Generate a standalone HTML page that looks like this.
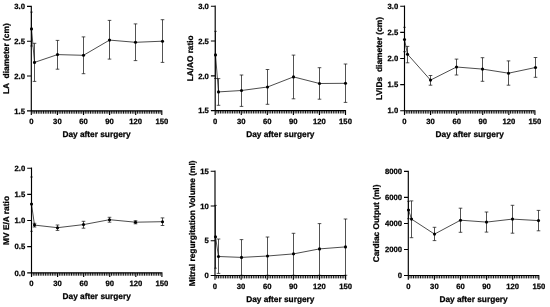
<!DOCTYPE html>
<html><head><meta charset="utf-8"><title>Figure</title>
<style>html,body{margin:0;padding:0;background:#fff}svg{display:block}text{font-family:"Liberation Sans",sans-serif;font-weight:bold;fill:#000;stroke:#000;stroke-width:0.25px;text-rendering:geometricPrecision}.t{font-size:7.7px}.l{font-size:8.3px}</style></head>
<body>
<svg width="550" height="307" viewBox="0 0 550 307">
<rect width="550" height="307" fill="#fff"/>
<g>
<path d="M31.5 12.1V46M30.2 12.1H32.8M30.2 46H32.8M34.5 43.3V81.4M32.7 43.3H36.3M32.7 81.4H36.3M57.5 40.4V69.2M55.7 40.4H59.3M55.7 69.2H59.3M83.5 36.9V73.7M81.7 36.9H85.3M81.7 73.7H85.3M109.5 20.4V59.1M107.7 20.4H111.3M107.7 59.1H111.3M135.5 23.9V60.6M133.7 23.9H137.3M133.7 60.6H137.3M162.5 19.7V62.4M160.7 19.7H164.3M160.7 62.4H164.3" stroke="#1a1a1a" stroke-width="0.75" fill="none"/>
<polyline points="31.5,28.9 34.5,62.4 57.5,54.6 83.5,55.3 109.5,40.1 135.5,42.3 162.5,41.2" stroke="#000" stroke-width="0.7" fill="none"/>
<circle cx="31.5" cy="28.9" r="1.55" fill="#000"/><circle cx="34.5" cy="62.4" r="1.55" fill="#000"/><circle cx="57.5" cy="54.6" r="1.55" fill="#000"/><circle cx="83.5" cy="55.3" r="1.55" fill="#000"/><circle cx="109.5" cy="40.1" r="1.55" fill="#000"/><circle cx="135.5" cy="42.3" r="1.55" fill="#000"/><circle cx="162.5" cy="41.2" r="1.55" fill="#000"/>
<path d="M31.3 5.83V115.1M27 110.8H162.38M27 6.4H31.3M27 41.2H31.3M27 76H31.3M57.4 110.8V115.1M83.5 110.8V115.1M109.6 110.8V115.1M135.7 110.8V115.1M161.8 110.8V115.1" stroke="#000" stroke-width="1.15" fill="none"/>
<path d="M33.04 110.8V113.7M34.78 110.8V113.7M36.52 110.8V113.7M38.26 110.8V113.7M40 110.8V113.7M41.74 110.8V113.7M43.48 110.8V113.7M45.22 110.8V113.7M46.96 110.8V113.7M48.7 110.8V113.7M50.44 110.8V113.7M52.18 110.8V113.7M53.92 110.8V113.7M55.66 110.8V113.7M59.14 110.8V113.7M60.88 110.8V113.7M62.62 110.8V113.7M64.36 110.8V113.7M66.1 110.8V113.7M67.84 110.8V113.7M69.58 110.8V113.7M71.32 110.8V113.7M73.06 110.8V113.7M74.8 110.8V113.7M76.54 110.8V113.7M78.28 110.8V113.7M80.02 110.8V113.7M81.76 110.8V113.7M85.24 110.8V113.7M86.98 110.8V113.7M88.72 110.8V113.7M90.46 110.8V113.7M92.2 110.8V113.7M93.94 110.8V113.7M95.68 110.8V113.7M97.42 110.8V113.7M99.16 110.8V113.7M100.9 110.8V113.7M102.64 110.8V113.7M104.38 110.8V113.7M106.12 110.8V113.7M107.86 110.8V113.7M111.34 110.8V113.7M113.08 110.8V113.7M114.82 110.8V113.7M116.56 110.8V113.7M118.3 110.8V113.7M120.04 110.8V113.7M121.78 110.8V113.7M123.52 110.8V113.7M125.26 110.8V113.7M127 110.8V113.7M128.74 110.8V113.7M130.48 110.8V113.7M132.22 110.8V113.7M133.96 110.8V113.7M137.44 110.8V113.7M139.18 110.8V113.7M140.92 110.8V113.7M142.66 110.8V113.7M144.4 110.8V113.7M146.14 110.8V113.7M147.88 110.8V113.7M149.62 110.8V113.7M151.36 110.8V113.7M153.1 110.8V113.7M154.84 110.8V113.7M156.58 110.8V113.7M158.32 110.8V113.7M160.06 110.8V113.7" stroke="#000" stroke-width="0.95" fill="none"/>
<text class="t" x="25" y="9.15" text-anchor="end">3.0</text><text class="t" x="25" y="43.95" text-anchor="end">2.5</text><text class="t" x="25" y="78.75" text-anchor="end">2.0</text><text class="t" x="25" y="113.55" text-anchor="end">1.5</text>
<text class="t" x="31.3" y="124.25" text-anchor="middle">0</text><text class="t" x="57.4" y="124.25" text-anchor="middle">30</text><text class="t" x="83.5" y="124.25" text-anchor="middle">60</text><text class="t" x="109.6" y="124.25" text-anchor="middle">90</text><text class="t" x="135.7" y="124.25" text-anchor="middle">120</text><text class="t" x="161.8" y="124.25" text-anchor="middle">150</text>
<text class="l" x="96.55" y="137" text-anchor="middle" textLength="68.3" lengthAdjust="spacingAndGlyphs">Day after surgery</text>
<text class="l" xml:space="preserve" style="white-space:pre" transform="translate(8.8 58.6) rotate(-90)" text-anchor="middle" textLength="70.9" lengthAdjust="spacingAndGlyphs">LA  diameter (cm)</text>
</g>
<g>
<path d="M215.5 31.3V78.5M214.2 31.3H216.8M214.2 78.5H216.8M218.5 78.6V105.3M216.7 78.6H220.3M216.7 105.3H220.3M241.5 75V106.4M239.7 75H243.3M239.7 106.4H243.3M267.5 69.5V104.3M265.7 69.5H269.3M265.7 104.3H269.3M293.5 55.1V98.8M291.7 55.1H295.3M291.7 98.8H295.3M319.5 67.7V99.2M317.7 67.7H321.3M317.7 99.2H321.3M345.5 64V102.4M343.7 64H347.3M343.7 102.4H347.3" stroke="#1a1a1a" stroke-width="0.75" fill="none"/>
<polyline points="215.5,54.9 218.5,91.9 241.5,90.5 267.5,87 293.5,76.9 319.5,83.5 345.5,83.3" stroke="#000" stroke-width="0.7" fill="none"/>
<circle cx="215.5" cy="54.9" r="1.55" fill="#000"/><circle cx="218.5" cy="91.9" r="1.55" fill="#000"/><circle cx="241.5" cy="90.5" r="1.55" fill="#000"/><circle cx="267.5" cy="87" r="1.55" fill="#000"/><circle cx="293.5" cy="76.9" r="1.55" fill="#000"/><circle cx="319.5" cy="83.5" r="1.55" fill="#000"/><circle cx="345.5" cy="83.3" r="1.55" fill="#000"/>
<path d="M215.2 5.62V114.9M210.9 110.6H346.07M210.9 6.2H215.2M210.9 41H215.2M210.9 75.8H215.2M241.26 110.6V114.9M267.32 110.6V114.9M293.38 110.6V114.9M319.44 110.6V114.9M345.5 110.6V114.9" stroke="#000" stroke-width="1.15" fill="none"/>
<path d="M216.94 110.6V113.5M218.67 110.6V113.5M220.41 110.6V113.5M222.15 110.6V113.5M223.89 110.6V113.5M225.62 110.6V113.5M227.36 110.6V113.5M229.1 110.6V113.5M230.84 110.6V113.5M232.57 110.6V113.5M234.31 110.6V113.5M236.05 110.6V113.5M237.79 110.6V113.5M239.52 110.6V113.5M243 110.6V113.5M244.73 110.6V113.5M246.47 110.6V113.5M248.21 110.6V113.5M249.95 110.6V113.5M251.68 110.6V113.5M253.42 110.6V113.5M255.16 110.6V113.5M256.9 110.6V113.5M258.63 110.6V113.5M260.37 110.6V113.5M262.11 110.6V113.5M263.85 110.6V113.5M265.58 110.6V113.5M269.06 110.6V113.5M270.79 110.6V113.5M272.53 110.6V113.5M274.27 110.6V113.5M276.01 110.6V113.5M277.74 110.6V113.5M279.48 110.6V113.5M281.22 110.6V113.5M282.96 110.6V113.5M284.69 110.6V113.5M286.43 110.6V113.5M288.17 110.6V113.5M289.91 110.6V113.5M291.64 110.6V113.5M295.12 110.6V113.5M296.85 110.6V113.5M298.59 110.6V113.5M300.33 110.6V113.5M302.07 110.6V113.5M303.8 110.6V113.5M305.54 110.6V113.5M307.28 110.6V113.5M309.02 110.6V113.5M310.75 110.6V113.5M312.49 110.6V113.5M314.23 110.6V113.5M315.97 110.6V113.5M317.7 110.6V113.5M321.18 110.6V113.5M322.91 110.6V113.5M324.65 110.6V113.5M326.39 110.6V113.5M328.13 110.6V113.5M329.86 110.6V113.5M331.6 110.6V113.5M333.34 110.6V113.5M335.08 110.6V113.5M336.81 110.6V113.5M338.55 110.6V113.5M340.29 110.6V113.5M342.03 110.6V113.5M343.76 110.6V113.5" stroke="#000" stroke-width="0.95" fill="none"/>
<text class="t" x="208.9" y="8.95" text-anchor="end">3.0</text><text class="t" x="208.9" y="43.75" text-anchor="end">2.5</text><text class="t" x="208.9" y="78.55" text-anchor="end">2.0</text><text class="t" x="208.9" y="113.35" text-anchor="end">1.5</text>
<text class="t" x="215.2" y="124.05" text-anchor="middle">0</text><text class="t" x="241.26" y="124.05" text-anchor="middle">30</text><text class="t" x="267.32" y="124.05" text-anchor="middle">60</text><text class="t" x="293.38" y="124.05" text-anchor="middle">90</text><text class="t" x="319.44" y="124.05" text-anchor="middle">120</text><text class="t" x="345.5" y="124.05" text-anchor="middle">150</text>
<text class="l" x="280.35" y="136.8" text-anchor="middle" textLength="68.3" lengthAdjust="spacingAndGlyphs">Day after surgery</text>
<text class="l" xml:space="preserve" style="white-space:pre" transform="translate(192.8 58.4) rotate(-90)" text-anchor="middle" textLength="45.8" lengthAdjust="spacingAndGlyphs">LA/AO ratio</text>
</g>
<g>
<path d="M404.5 27.3V51.7M403.2 27.3H405.8M403.2 51.7H405.8M407.5 46.4V62.8M405.7 46.4H409.3M405.7 62.8H409.3M430.5 75.5V85.2M428.7 75.5H432.3M428.7 85.2H432.3M456.5 59.1V75M454.7 59.1H458.3M454.7 75H458.3M482.5 57.7V81.3M480.7 57.7H484.3M480.7 81.3H484.3M508.5 60.9V85.2M506.7 60.9H510.3M506.7 85.2H510.3M535.5 57.5V77.3M533.7 57.5H537.3M533.7 77.3H537.3" stroke="#1a1a1a" stroke-width="0.75" fill="none"/>
<polyline points="404.5,39.5 407.5,54.2 430.5,80.1 456.5,67 482.5,69.1 508.5,73.2 535.5,67.5" stroke="#000" stroke-width="0.7" fill="none"/>
<circle cx="404.5" cy="39.5" r="1.55" fill="#000"/><circle cx="407.5" cy="54.2" r="1.55" fill="#000"/><circle cx="430.5" cy="80.1" r="1.55" fill="#000"/><circle cx="456.5" cy="67" r="1.55" fill="#000"/><circle cx="482.5" cy="69.1" r="1.55" fill="#000"/><circle cx="508.5" cy="73.2" r="1.55" fill="#000"/><circle cx="535.5" cy="67.5" r="1.55" fill="#000"/>
<path d="M404.5 5.62V115M400.2 110.7H535.48M400.2 6.2H404.5M400.2 32.33H404.5M400.2 58.45H404.5M400.2 84.58H404.5M430.58 110.7V115M456.66 110.7V115M482.74 110.7V115M508.82 110.7V115M534.9 110.7V115" stroke="#000" stroke-width="1.15" fill="none"/>
<path d="M406.24 110.7V113.6M407.98 110.7V113.6M409.72 110.7V113.6M411.45 110.7V113.6M413.19 110.7V113.6M414.93 110.7V113.6M416.67 110.7V113.6M418.41 110.7V113.6M420.15 110.7V113.6M421.89 110.7V113.6M423.63 110.7V113.6M425.36 110.7V113.6M427.1 110.7V113.6M428.84 110.7V113.6M432.32 110.7V113.6M434.06 110.7V113.6M435.8 110.7V113.6M437.53 110.7V113.6M439.27 110.7V113.6M441.01 110.7V113.6M442.75 110.7V113.6M444.49 110.7V113.6M446.23 110.7V113.6M447.97 110.7V113.6M449.71 110.7V113.6M451.44 110.7V113.6M453.18 110.7V113.6M454.92 110.7V113.6M458.4 110.7V113.6M460.14 110.7V113.6M461.88 110.7V113.6M463.61 110.7V113.6M465.35 110.7V113.6M467.09 110.7V113.6M468.83 110.7V113.6M470.57 110.7V113.6M472.31 110.7V113.6M474.05 110.7V113.6M475.79 110.7V113.6M477.52 110.7V113.6M479.26 110.7V113.6M481 110.7V113.6M484.48 110.7V113.6M486.22 110.7V113.6M487.96 110.7V113.6M489.69 110.7V113.6M491.43 110.7V113.6M493.17 110.7V113.6M494.91 110.7V113.6M496.65 110.7V113.6M498.39 110.7V113.6M500.13 110.7V113.6M501.87 110.7V113.6M503.6 110.7V113.6M505.34 110.7V113.6M507.08 110.7V113.6M510.56 110.7V113.6M512.3 110.7V113.6M514.04 110.7V113.6M515.77 110.7V113.6M517.51 110.7V113.6M519.25 110.7V113.6M520.99 110.7V113.6M522.73 110.7V113.6M524.47 110.7V113.6M526.21 110.7V113.6M527.95 110.7V113.6M529.68 110.7V113.6M531.42 110.7V113.6M533.16 110.7V113.6" stroke="#000" stroke-width="0.95" fill="none"/>
<text class="t" x="398.2" y="8.95" text-anchor="end">3.0</text><text class="t" x="398.2" y="35.08" text-anchor="end">2.5</text><text class="t" x="398.2" y="61.2" text-anchor="end">2.0</text><text class="t" x="398.2" y="87.33" text-anchor="end">1.5</text><text class="t" x="398.2" y="113.45" text-anchor="end">1.0</text>
<text class="t" x="404.5" y="124.15" text-anchor="middle">0</text><text class="t" x="430.58" y="124.15" text-anchor="middle">30</text><text class="t" x="456.66" y="124.15" text-anchor="middle">60</text><text class="t" x="482.74" y="124.15" text-anchor="middle">90</text><text class="t" x="508.82" y="124.15" text-anchor="middle">120</text><text class="t" x="534.9" y="124.15" text-anchor="middle">150</text>
<text class="l" x="469.7" y="136.9" text-anchor="middle" textLength="68.3" lengthAdjust="spacingAndGlyphs">Day after surgery</text>
<text class="l" xml:space="preserve" style="white-space:pre" transform="translate(382.1 58.45) rotate(-90)" text-anchor="middle" textLength="83.2" lengthAdjust="spacingAndGlyphs">LVIDs  diameter (cm)</text>
</g>
<g>
<path d="M31.5 177V231.3M30.2 177H32.8M30.2 231.3H32.8M34.5 223.3V227M32.7 223.3H36.3M32.7 227H36.3M57.5 225V230.4M55.7 225H59.3M55.7 230.4H59.3M83.5 221.3V228.2M81.7 221.3H85.3M81.7 228.2H85.3M109.5 217.3V222.2M107.7 217.3H111.3M107.7 222.2H111.3M135.5 220.7V223.8M133.7 220.7H137.3M133.7 223.8H137.3M162.5 217.9V225.5M160.7 217.9H164.3M160.7 225.5H164.3" stroke="#1a1a1a" stroke-width="0.75" fill="none"/>
<polyline points="31.5,204.1 34.5,225.1 57.5,227.7 83.5,224.6 109.5,219.7 135.5,222.2 162.5,221.7" stroke="#000" stroke-width="0.7" fill="none"/>
<circle cx="31.5" cy="204.1" r="1.55" fill="#000"/><circle cx="34.5" cy="225.1" r="1.55" fill="#000"/><circle cx="57.5" cy="227.7" r="1.55" fill="#000"/><circle cx="83.5" cy="224.6" r="1.55" fill="#000"/><circle cx="109.5" cy="219.7" r="1.55" fill="#000"/><circle cx="135.5" cy="222.2" r="1.55" fill="#000"/><circle cx="162.5" cy="221.7" r="1.55" fill="#000"/>
<path d="M31.5 167.62V277.1M27.2 272.8H162.47M27.2 168.2H31.5M27.2 194.35H31.5M27.2 220.5H31.5M27.2 246.65H31.5M57.58 272.8V277.1M83.66 272.8V277.1M109.74 272.8V277.1M135.82 272.8V277.1M161.9 272.8V277.1" stroke="#000" stroke-width="1.15" fill="none"/>
<path d="M33.24 272.8V275.7M34.98 272.8V275.7M36.72 272.8V275.7M38.45 272.8V275.7M40.19 272.8V275.7M41.93 272.8V275.7M43.67 272.8V275.7M45.41 272.8V275.7M47.15 272.8V275.7M48.89 272.8V275.7M50.63 272.8V275.7M52.36 272.8V275.7M54.1 272.8V275.7M55.84 272.8V275.7M59.32 272.8V275.7M61.06 272.8V275.7M62.8 272.8V275.7M64.53 272.8V275.7M66.27 272.8V275.7M68.01 272.8V275.7M69.75 272.8V275.7M71.49 272.8V275.7M73.23 272.8V275.7M74.97 272.8V275.7M76.71 272.8V275.7M78.44 272.8V275.7M80.18 272.8V275.7M81.92 272.8V275.7M85.4 272.8V275.7M87.14 272.8V275.7M88.88 272.8V275.7M90.61 272.8V275.7M92.35 272.8V275.7M94.09 272.8V275.7M95.83 272.8V275.7M97.57 272.8V275.7M99.31 272.8V275.7M101.05 272.8V275.7M102.79 272.8V275.7M104.52 272.8V275.7M106.26 272.8V275.7M108 272.8V275.7M111.48 272.8V275.7M113.22 272.8V275.7M114.96 272.8V275.7M116.69 272.8V275.7M118.43 272.8V275.7M120.17 272.8V275.7M121.91 272.8V275.7M123.65 272.8V275.7M125.39 272.8V275.7M127.13 272.8V275.7M128.87 272.8V275.7M130.6 272.8V275.7M132.34 272.8V275.7M134.08 272.8V275.7M137.56 272.8V275.7M139.3 272.8V275.7M141.04 272.8V275.7M142.77 272.8V275.7M144.51 272.8V275.7M146.25 272.8V275.7M147.99 272.8V275.7M149.73 272.8V275.7M151.47 272.8V275.7M153.21 272.8V275.7M154.95 272.8V275.7M156.68 272.8V275.7M158.42 272.8V275.7M160.16 272.8V275.7" stroke="#000" stroke-width="0.95" fill="none"/>
<text class="t" x="25.2" y="170.95" text-anchor="end">2.0</text><text class="t" x="25.2" y="197.1" text-anchor="end">1.5</text><text class="t" x="25.2" y="223.25" text-anchor="end">1.0</text><text class="t" x="25.2" y="249.4" text-anchor="end">0.5</text><text class="t" x="25.2" y="275.55" text-anchor="end">0.0</text>
<text class="t" x="31.5" y="286.25" text-anchor="middle">0</text><text class="t" x="57.58" y="286.25" text-anchor="middle">30</text><text class="t" x="83.66" y="286.25" text-anchor="middle">60</text><text class="t" x="109.74" y="286.25" text-anchor="middle">90</text><text class="t" x="135.82" y="286.25" text-anchor="middle">120</text><text class="t" x="161.9" y="286.25" text-anchor="middle">150</text>
<text class="l" x="96.7" y="299" text-anchor="middle" textLength="68.3" lengthAdjust="spacingAndGlyphs">Day after surgery</text>
<text class="l" xml:space="preserve" style="white-space:pre" transform="translate(9.1 220.5) rotate(-90)" text-anchor="middle" textLength="49" lengthAdjust="spacingAndGlyphs">MV E/A ratio</text>
</g>
<g>
<path d="M215.5 205.4V268.2M214.2 205.4H216.8M214.2 268.2H216.8M218.5 239V273.4M216.7 239H220.3M216.7 273.4H220.3M241.5 239.6V275.3M239.7 239.6H243.3M239.7 275.3H243.3M267.5 237V275.3M265.7 237H269.3M265.7 275.3H269.3M293.5 233.3V275.3M291.7 233.3H295.3M291.7 275.3H295.3M319.5 223.6V275.3M317.7 223.6H321.3M317.7 275.3H321.3M345.5 219V275.3M343.7 219H347.3M343.7 275.3H347.3" stroke="#1a1a1a" stroke-width="0.75" fill="none"/>
<polyline points="215.5,236.8 218.5,256.5 241.5,257.4 267.5,256 293.5,253.9 319.5,248.9 345.5,246.9" stroke="#000" stroke-width="0.7" fill="none"/>
<circle cx="215.5" cy="236.8" r="1.55" fill="#000"/><circle cx="218.5" cy="256.5" r="1.55" fill="#000"/><circle cx="241.5" cy="257.4" r="1.55" fill="#000"/><circle cx="267.5" cy="256" r="1.55" fill="#000"/><circle cx="293.5" cy="253.9" r="1.55" fill="#000"/><circle cx="319.5" cy="248.9" r="1.55" fill="#000"/><circle cx="345.5" cy="246.9" r="1.55" fill="#000"/>
<path d="M215 170.62V279.8M210.7 275.5H346.18M210.7 171.2H215M210.7 205.97H215M210.7 240.73H215M241.12 275.5V279.8M267.24 275.5V279.8M293.36 275.5V279.8M319.48 275.5V279.8M345.6 275.5V279.8" stroke="#000" stroke-width="1.15" fill="none"/>
<path d="M216.74 275.5V278.4M218.48 275.5V278.4M220.22 275.5V278.4M221.97 275.5V278.4M223.71 275.5V278.4M225.45 275.5V278.4M227.19 275.5V278.4M228.93 275.5V278.4M230.67 275.5V278.4M232.41 275.5V278.4M234.15 275.5V278.4M235.9 275.5V278.4M237.64 275.5V278.4M239.38 275.5V278.4M242.86 275.5V278.4M244.6 275.5V278.4M246.34 275.5V278.4M248.09 275.5V278.4M249.83 275.5V278.4M251.57 275.5V278.4M253.31 275.5V278.4M255.05 275.5V278.4M256.79 275.5V278.4M258.53 275.5V278.4M260.27 275.5V278.4M262.02 275.5V278.4M263.76 275.5V278.4M265.5 275.5V278.4M268.98 275.5V278.4M270.72 275.5V278.4M272.46 275.5V278.4M274.21 275.5V278.4M275.95 275.5V278.4M277.69 275.5V278.4M279.43 275.5V278.4M281.17 275.5V278.4M282.91 275.5V278.4M284.65 275.5V278.4M286.39 275.5V278.4M288.14 275.5V278.4M289.88 275.5V278.4M291.62 275.5V278.4M295.1 275.5V278.4M296.84 275.5V278.4M298.58 275.5V278.4M300.33 275.5V278.4M302.07 275.5V278.4M303.81 275.5V278.4M305.55 275.5V278.4M307.29 275.5V278.4M309.03 275.5V278.4M310.77 275.5V278.4M312.51 275.5V278.4M314.26 275.5V278.4M316 275.5V278.4M317.74 275.5V278.4M321.22 275.5V278.4M322.96 275.5V278.4M324.7 275.5V278.4M326.45 275.5V278.4M328.19 275.5V278.4M329.93 275.5V278.4M331.67 275.5V278.4M333.41 275.5V278.4M335.15 275.5V278.4M336.89 275.5V278.4M338.63 275.5V278.4M340.38 275.5V278.4M342.12 275.5V278.4M343.86 275.5V278.4" stroke="#000" stroke-width="0.95" fill="none"/>
<text class="t" x="208.7" y="173.95" text-anchor="end">15</text><text class="t" x="208.7" y="208.72" text-anchor="end">10</text><text class="t" x="208.7" y="243.48" text-anchor="end">5</text><text class="t" x="208.7" y="278.25" text-anchor="end">0</text>
<text class="t" x="215" y="288.95" text-anchor="middle">0</text><text class="t" x="241.12" y="288.95" text-anchor="middle">30</text><text class="t" x="267.24" y="288.95" text-anchor="middle">60</text><text class="t" x="293.36" y="288.95" text-anchor="middle">90</text><text class="t" x="319.48" y="288.95" text-anchor="middle">120</text><text class="t" x="345.6" y="288.95" text-anchor="middle">150</text>
<text class="l" x="280.3" y="301.7" text-anchor="middle" textLength="68.3" lengthAdjust="spacingAndGlyphs">Day after surgery</text>
<text class="l" xml:space="preserve" style="white-space:pre" transform="translate(194.8 223.35) rotate(-90)" text-anchor="middle" textLength="125.8" lengthAdjust="spacingAndGlyphs">Mitral regurgitation Volume (ml)</text>
</g>
<g>
<path d="M408.5 201.3V218.7M407.2 201.3H409.8M407.2 218.7H409.8M411.5 200.9V237.7M409.7 200.9H413.3M409.7 237.7H413.3M434.5 227.3V240.6M432.7 227.3H436.3M432.7 240.6H436.3M460.5 208.2V232.3M458.7 208.2H462.3M458.7 232.3H462.3M486.5 212V232.1M484.7 212H488.3M484.7 232.1H488.3M512.5 205.3V233.2M510.7 205.3H514.3M510.7 233.2H514.3M538.5 210.4V230.8M536.7 210.4H540.3M536.7 230.8H540.3" stroke="#1a1a1a" stroke-width="0.75" fill="none"/>
<polyline points="408.5,210 411.5,219.1 434.5,234.1 460.5,220.2 486.5,222.1 512.5,219.1 538.5,220.6" stroke="#000" stroke-width="0.7" fill="none"/>
<circle cx="408.5" cy="210" r="1.55" fill="#000"/><circle cx="411.5" cy="219.1" r="1.55" fill="#000"/><circle cx="434.5" cy="234.1" r="1.55" fill="#000"/><circle cx="460.5" cy="220.2" r="1.55" fill="#000"/><circle cx="486.5" cy="222.1" r="1.55" fill="#000"/><circle cx="512.5" cy="219.1" r="1.55" fill="#000"/><circle cx="538.5" cy="220.6" r="1.55" fill="#000"/>
<path d="M408.3 170.83V279.8M404 275.5H539.38M404 171.4H408.3M404 197.43H408.3M404 223.45H408.3M404 249.47H408.3M434.4 275.5V279.8M460.5 275.5V279.8M486.6 275.5V279.8M512.7 275.5V279.8M538.8 275.5V279.8" stroke="#000" stroke-width="1.15" fill="none"/>
<path d="M410.04 275.5V278.4M411.78 275.5V278.4M413.52 275.5V278.4M415.26 275.5V278.4M417 275.5V278.4M418.74 275.5V278.4M420.48 275.5V278.4M422.22 275.5V278.4M423.96 275.5V278.4M425.7 275.5V278.4M427.44 275.5V278.4M429.18 275.5V278.4M430.92 275.5V278.4M432.66 275.5V278.4M436.14 275.5V278.4M437.88 275.5V278.4M439.62 275.5V278.4M441.36 275.5V278.4M443.1 275.5V278.4M444.84 275.5V278.4M446.58 275.5V278.4M448.32 275.5V278.4M450.06 275.5V278.4M451.8 275.5V278.4M453.54 275.5V278.4M455.28 275.5V278.4M457.02 275.5V278.4M458.76 275.5V278.4M462.24 275.5V278.4M463.98 275.5V278.4M465.72 275.5V278.4M467.46 275.5V278.4M469.2 275.5V278.4M470.94 275.5V278.4M472.68 275.5V278.4M474.42 275.5V278.4M476.16 275.5V278.4M477.9 275.5V278.4M479.64 275.5V278.4M481.38 275.5V278.4M483.12 275.5V278.4M484.86 275.5V278.4M488.34 275.5V278.4M490.08 275.5V278.4M491.82 275.5V278.4M493.56 275.5V278.4M495.3 275.5V278.4M497.04 275.5V278.4M498.78 275.5V278.4M500.52 275.5V278.4M502.26 275.5V278.4M504 275.5V278.4M505.74 275.5V278.4M507.48 275.5V278.4M509.22 275.5V278.4M510.96 275.5V278.4M514.44 275.5V278.4M516.18 275.5V278.4M517.92 275.5V278.4M519.66 275.5V278.4M521.4 275.5V278.4M523.14 275.5V278.4M524.88 275.5V278.4M526.62 275.5V278.4M528.36 275.5V278.4M530.1 275.5V278.4M531.84 275.5V278.4M533.58 275.5V278.4M535.32 275.5V278.4M537.06 275.5V278.4" stroke="#000" stroke-width="0.95" fill="none"/>
<text class="t" x="402" y="174.15" text-anchor="end">8000</text><text class="t" x="402" y="200.18" text-anchor="end">6000</text><text class="t" x="402" y="226.2" text-anchor="end">4000</text><text class="t" x="402" y="252.22" text-anchor="end">2000</text><text class="t" x="402" y="278.25" text-anchor="end">0</text>
<text class="t" x="408.3" y="288.95" text-anchor="middle">0</text><text class="t" x="434.4" y="288.95" text-anchor="middle">30</text><text class="t" x="460.5" y="288.95" text-anchor="middle">60</text><text class="t" x="486.6" y="288.95" text-anchor="middle">90</text><text class="t" x="512.7" y="288.95" text-anchor="middle">120</text><text class="t" x="538.8" y="288.95" text-anchor="middle">150</text>
<text class="l" x="473.55" y="301.7" text-anchor="middle" textLength="68.3" lengthAdjust="spacingAndGlyphs">Day after surgery</text>
<text class="l" xml:space="preserve" style="white-space:pre" transform="translate(379.1 223.45) rotate(-90)" text-anchor="middle" textLength="77.8" lengthAdjust="spacingAndGlyphs">Cardiac Output (ml)</text>
</g>
</svg>
</body></html>
